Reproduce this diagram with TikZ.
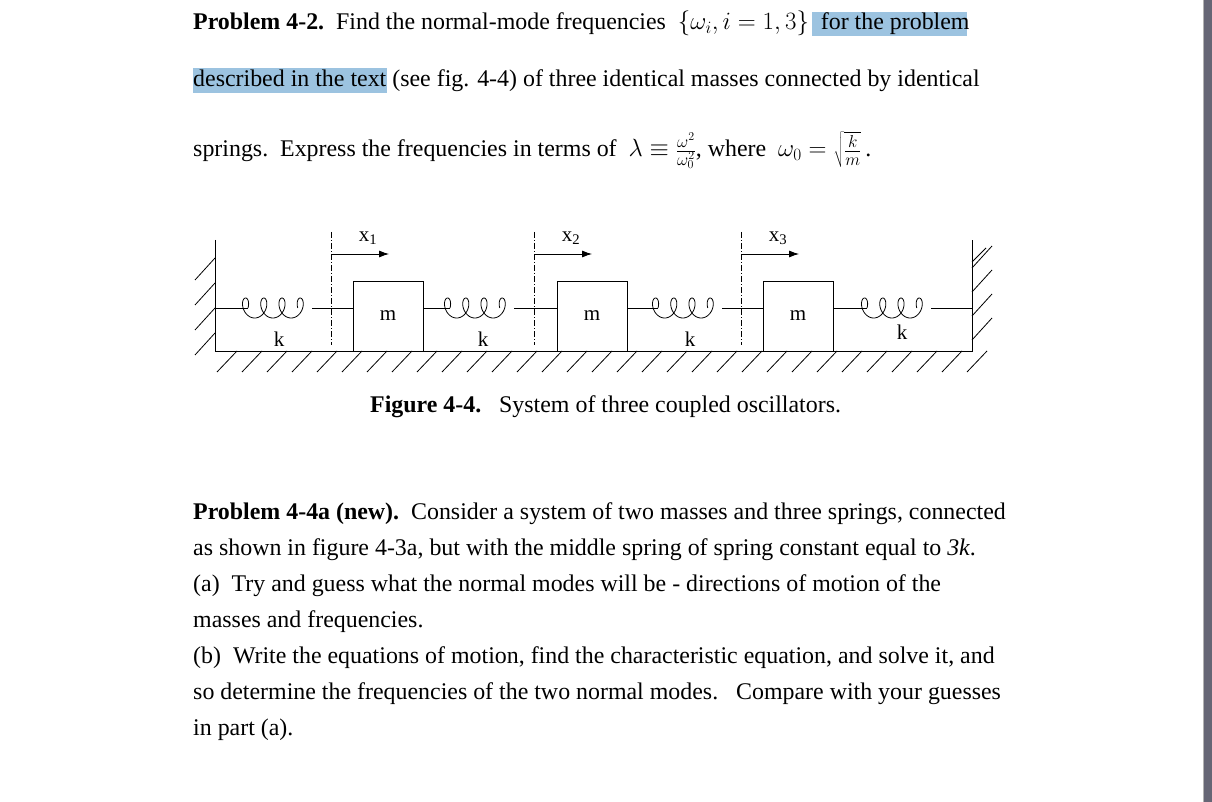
\documentclass[tikz,border=0pt]{standalone}
\usepackage{fontspec}
\setmainfont{Liberation Serif}
\usetikzlibrary{arrows.meta}
\definecolor{hl}{RGB}{156,195,224}
\begin{document}
\begin{tikzpicture}[x=1pt,y=-1pt,
  txt/.style={anchor=base west,inner sep=0pt,font=\fontsize{23.9}{28}\selectfont},
  fig/.style={inner sep=0pt,font=\fontsize{21}{24}\selectfont},
  thin line/.style={line width=0.8pt},
  mass/.style={draw,line width=0.8pt,minimum width=70pt,minimum height=70pt,inner sep=0pt,font=\fontsize{21}{24}\selectfont},
  dashref/.style={line width=0.6pt,dash pattern=on 6pt off 2pt on 1pt off 2pt}]
\useasboundingbox (0,0) rectangle (1212,802);
\fill[white] (0,0) rectangle (1212,802);
\fill[black!70!blue!20!gray] (1203,0) rectangle (1212,802);
\draw[gray!60,line width=1pt] (1203,0) -- (1203,802);
% highlights
\fill[hl] (812,12) rectangle (967,36);
\fill[hl] (193,68) rectangle (387,93);
% text
\node[txt] (l1) at (193,30) {\textbf{Problem 4-2.}\enspace Find the normal-mode frequencies\enspace $\{\omega_i,i=1,3\}$\enspace for the problem};
\node[txt] (l2) at (193,87) {described in the text (see fig. 4-4) of three identical masses connected by identical};
\node[txt] (l3) at (193,157) {springs.\enspace Express the frequencies in terms of\enspace $\lambda\equiv{\omega^2\over\omega_0^2}$, where\enspace $\omega_0=\sqrt{k\over m}$\,.};
\node[txt] (cap) at (370,412) {\textbf{Figure 4-4.}\enspace\ System of three coupled oscillators.};
\node[txt] (p1) at (193,519) {\textbf{Problem 4-4a (new).}\enspace Consider a system of two masses and three springs, connected};
\node[txt] (p2) at (193,555) {as shown in figure 4-3a, but with the middle spring of spring constant equal to \textit{3k}.};
\node[txt] (p3) at (193,591) {(a)\enspace Try and guess what the normal modes will be - directions of motion of the};
\node[txt] (p4) at (193,627) {masses and frequencies.};
\node[txt] (p5) at (193,663) {(b)\enspace Write the equations of motion, find the characteristic equation, and solve it, and};
\node[txt] (p6) at (193,699) {so determine the frequencies of the two normal modes.\enspace\ Compare with your guesses};
\node[txt] (p7) at (193,735) {in part (a).};
% figure: walls and floor
\coordinate (wl) at (215,240);
\coordinate (fl) at (215,351);
\coordinate (fr) at (972,351);
\coordinate (wr) at (972,240);
\draw[thin line] (wl) -- (fl) -- (fr) -- (wr);
\foreach \x in {237,262,...,1000} \draw[thin line] (\x,351) -- (\x-20,372);
\foreach \y in {258,283,...,340} \draw[thin line] (215,\y) -- (195,\y+22);
\foreach \y in {268,292,...,342} \draw[thin line] (972,\y) -- (992,\y-22);
\draw[thin line] (972,262) -- (986,248);
% masses
\node[mass] (m1) at (388,316) {m};
\node[mass] (m2) at (592,316) {m};
\node[mass] (m3) at (798,316) {m};
% springs
\newcommand\coil[2]{% start x, y
  \draw[thin line] plot[domain=pi/2:7.5*pi,samples=260,smooth] ({#1-7+2.9*(\x-pi/2)+7*sin(\x r)},{#2+10*cos(\x r)});}
\coordinate (s1) at (215,308);
\coordinate (s4) at (972,308);
\draw[thin line] (s1) -- (248,308); \coil{248}{308}
\draw[thin line] (312,308) -- (m1.west |- 0,308);
\draw[thin line] (m1.east |- 0,308) -- (450,308); \coil{450}{308}
\draw[thin line] (514,308) -- (m2.west |- 0,308);
\draw[thin line] (m2.east |- 0,308) -- (658,308); \coil{658}{308}
\draw[thin line] (722,308) -- (m3.west |- 0,308);
\draw[thin line] (m3.east |- 0,308) -- (867,308); \coil{867}{308}
\draw[thin line] (931,308) -- (s4);
\node[fig] (k1) at (279,339) {k};
\node[fig] (k2) at (483,339) {k};
\node[fig] (k3) at (690,339) {k};
\node[fig] (k4) at (902,332) {k};
% reference lines and arrows
\foreach \d/\i in {331/1,534/2,741/3}{
  \coordinate (t\i) at (\d,232);
  \coordinate (b\i) at (\d,345);
  \draw[dashref] (t\i) -- (b\i);
  \coordinate (a\i) at (\d,254);
  \coordinate (e\i) at (\d+58,254);
  \draw[thin line,-{Latex[length=10pt,width=7pt]}] (a\i) -- (e\i);
  \node[fig] (x\i) at (\d+37,238) {x\textsubscript{\i}};
}
\end{tikzpicture}
\end{document}
